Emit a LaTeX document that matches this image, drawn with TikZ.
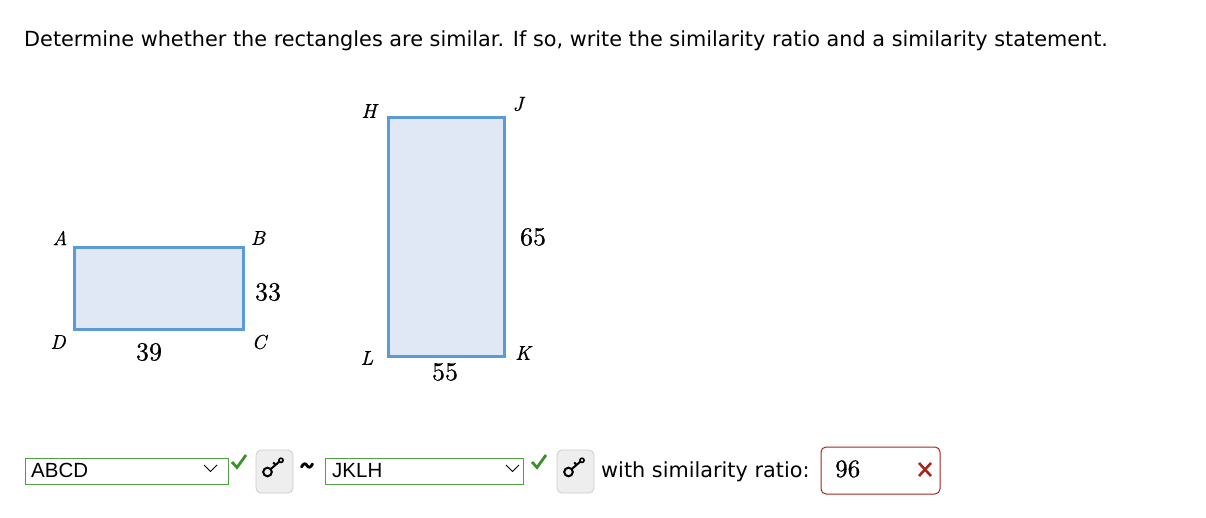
\documentclass[tikz,border=0pt]{standalone}
\usepackage{fontspec}
\newfontfamily\ui{DejaVu Sans}
\newfontfamily\arialf{Liberation Sans}
\newfontfamily\numf[FakeBold=0.7]{lmroman10-regular.otf}
\newfontfamily\varf[FakeBold=0.5]{lmroman10-italic.otf}
\definecolor{rectblue}{HTML}{5B9BD5}
\definecolor{rectfill}{HTML}{E1E8F5}
\definecolor{okgreen}{HTML}{3E8F2E}
\definecolor{boxgreen}{HTML}{4FA040}
\definecolor{btnfill}{HTML}{EEEEEE}
\definecolor{btnline}{HTML}{CCCCCC}
\definecolor{badred}{HTML}{A3271C}
\tikzset{
  shapebox/.style={draw=rectblue, line width=3pt, fill=rectfill},
  vlabel/.style={font=\varf\fontsize{20}{20}\selectfont, inner sep=0pt},
  numlabel/.style={font=\numf\fontsize{26}{26}\selectfont, inner sep=0pt},
  selectbox/.style={draw=boxgreen, line width=1pt, fill=white},
  btn/.style={draw=btnline, fill=btnfill, rounded corners=5pt, line width=0.8pt},
  tick/.style={draw=okgreen, line width=2.8pt},
  chev/.style={draw=black, line width=0.9pt},
  keyline/.style={line width=2pt},
}
\begin{document}
\begin{tikzpicture}[x=1pt,y=-1pt]
\useasboundingbox (0,0) rectangle (1206,518);
\fill[white] (0,0) rectangle (1206,518);
% title
\node[anchor=base west, inner sep=0pt, font=\ui\fontsize{20.8}{22}\selectfont] (title) at (24,47)
  {Determine whether the rectangles are similar. If so, write the similarity ratio and a similarity statement.};
% rectangle ABCD
\coordinate (A) at (74,248);
\coordinate (C) at (243,329);
\draw[shapebox] (A) rectangle (C);
\node[vlabel] (lA) at (60,238) {A};
\node[vlabel] (lB) at (258,238) {B};
\node[vlabel] (lC) at (259,342) {C};
\node[vlabel] (lD) at (58,342) {D};
\node[numlabel] (n33) at (268,292) {33};
\node[numlabel] (n39) at (149,352) {39};
% rectangle HJKL
\coordinate (H) at (388,118);
\coordinate (K) at (504,356);
\draw[shapebox] (H) rectangle (K);
\node[vlabel] (lH) at (369,111) {H};
\node[vlabel] (lJ) at (518,104) {J};
\node[vlabel] (lK) at (523,353) {K};
\node[vlabel] (lL) at (367,358) {L};
\node[numlabel] (n65) at (533,237) {65};
\node[numlabel] (n55) at (445,372) {55};
% bottom row
\draw[selectbox] (25,458) rectangle (228,484);
\node[anchor=base west, inner sep=0pt, font=\arialf\fontsize{20.5}{21}\selectfont] (s1) at (31,477.5) {ABCD};
\draw[chev] (204,465) -- (210.5,471.5) -- (217,465);
\draw[tick] (232,462) -- (237,467.5) -- (246,455);
\draw[btn] (256,450) rectangle (293,493);
\draw[keyline] (267.5,472) circle (4.3);
\draw[keyline] (270.8,469) -- (279.5,461.5);
\draw[keyline] (275.5,465) -- (273.2,462.4);
\draw[line width=1.6pt] (281,460.3) circle (2.1);
\draw[line width=2.8pt, line cap=round] (301.5,467) .. controls (303.5,463) and (305.5,463) .. (307,465.5) .. controls (308.5,468) and (310.5,468) .. (312.5,464);
\draw[selectbox] (325,458) rectangle (523,484);
\node[anchor=base west, inner sep=0pt, font=\arialf\fontsize{20.5}{21}\selectfont] (s2) at (332,477.5) {JKLH};
\draw[chev] (506,465) -- (512.5,471.5) -- (519,465);
\draw[tick] (532,462) -- (537,467.5) -- (546,455);
\draw[btn] (557,450) rectangle (594,493);
\draw[keyline] (568.5,472) circle (4.3);
\draw[keyline] (571.8,469) -- (580.5,461.5);
\draw[keyline] (576.5,465) -- (574.2,462.4);
\draw[line width=1.6pt] (582,460.3) circle (2.1);
\node[anchor=base west, inner sep=0pt, font=\ui\fontsize{20.8}{22}\selectfont] (ratio) at (601,477) {with similarity ratio:};
\draw[draw=badred, line width=1pt, rounded corners=5pt, fill=white] (821,447) rectangle (940,494);
\node[anchor=base west, inner sep=0pt, font=\numf\fontsize{25}{25}\selectfont] (ans) at (835,477) {96};
\draw[draw=badred, line width=2.6pt] (919,463) -- (931,476) (931,463) -- (919,476);
\end{tikzpicture}
\end{document}
